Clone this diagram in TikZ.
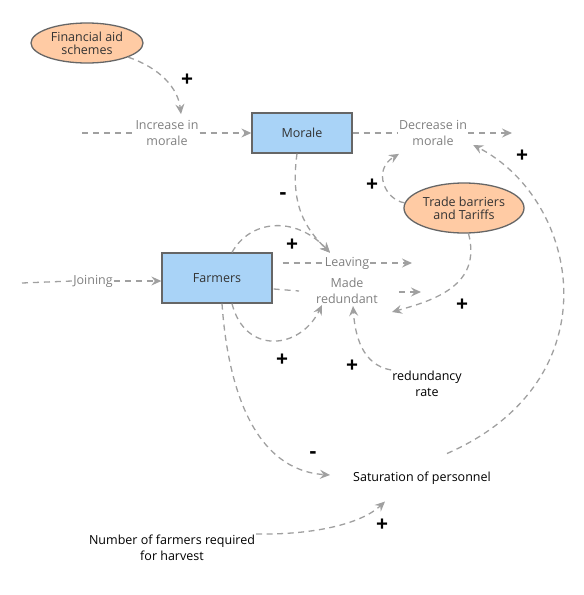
\documentclass[tikz,border=0pt]{standalone}
\usepackage{fontspec}
\setmainfont{Open Sans}
\usetikzlibrary{arrows.meta,shapes.geometric,calc}
\definecolor{arrowgray}{HTML}{A0A0A0}
\definecolor{textgray}{HTML}{808080}
\definecolor{bordergray}{HTML}{666666}
\definecolor{stockblue}{HTML}{A9D3F7}
\definecolor{peach}{HTML}{FFCBA4}
\tikzset{
  lnk/.style={draw=arrowgray, line width=1.3pt, dash pattern=on 6pt off 4.5pt,
    -{Stealth[length=10pt,width=9pt,inset=3.5pt]}},
  flowline/.style={draw=arrowgray, line width=1.3pt, dash pattern=on 6pt off 5pt},
  flowarrow/.style={flowline, -{Stealth[length=10pt,width=9pt,inset=3.5pt]}},
  stockbox/.style={draw=bordergray, fill=stockblue, line width=1.3pt,
    minimum width=100pt, minimum height=40pt, font=\fontsize{12.5}{15}\selectfont},
  auxvar/.style={ellipse, draw=bordergray, fill=peach, line width=1.3pt, align=center,
    inner sep=0pt, font=\fontsize{12.5}{14}\selectfont, text=black!80},
  valve/.style={text=textgray, align=center, inner sep=1pt, font=\fontsize{12.5}{16}\selectfont},
  var/.style={text=black, align=center, inner sep=1pt, font=\fontsize{12.5}{16}\selectfont},
  pol/.style={font=\fontsize{21}{21}\selectfont\bfseries, text=black, inner sep=0pt}
}
\begin{document}
\begin{tikzpicture}[x=1pt,y=-1pt]
\useasboundingbox (0,0) rectangle (584,595);

% nodes
\node[auxvar, minimum width=112pt, minimum height=40pt] (fin) at (87,43) {Financial aid\\[-1pt]schemes};
\node[valve] (inc) at (167,133) {Increase in\\morale};
\node[stockbox, text=black!80] (morale) at (302,133) {Morale};
\node[valve] (dec) at (433,133) {Decrease in\\morale};
\node[auxvar, minimum width=120pt, minimum height=50pt] (trade) at (464,208) {Trade barriers\\[-1pt]and Tariffs};
\node[stockbox, minimum width=110pt, minimum height=50pt, text=black!80] (farmers) at (217,278) {Farmers};
\node[valve] (join) at (93,281) {Joining};
\node[valve] (leave) at (347,263) {Leaving};
\node[valve] (mr) at (347,291) {Made\\redundant};
\node[var] (rr) at (427,384) {redundancy\\rate};
\node[var] (sat) at (422,478) {Saturation of personnel};
\node[var] (num) at (172,548) {Number of farmers required\\for harvest};

\coordinate (src1) at (82,133);
\coordinate (snk1) at (512,133);
\coordinate (src2) at (22,283);
\coordinate (snk2) at (412,263);
\coordinate (snk3) at (421,292);

% flows
\draw[flowline] (src1) -- (inc.west);
\draw[flowarrow] (inc.east) -- (morale.west);
\draw[flowline] (morale.east) -- (dec.west);
\draw[flowarrow] (dec.east) -- (snk1);
\draw[flowline] (src2) -- (join.west);
\draw[flowarrow] (join.east) -- (farmers.west |- join.east);
\draw[flowline] ($(farmers.east)+(10,-15)$) -- (leave.west);
\draw[flowarrow] (leave.east) -- (snk2);
\draw[flowline] ($(farmers.east)+(1,11)$) -- ($(mr.west)+(-16,0)$);
\draw[flowarrow] ($(mr.east)+(20,1)$) -- (snk3);

% links
\draw[lnk] (fin.-19) .. controls (160,68) and (178,88) .. ($(inc.north)+(14,-5)$);
\draw[lnk] ($(morale.south)+(-5,0)$) .. controls (290,205) and (305,228) .. ($(leave.north)+(-17,-3)$);
\draw[lnk] ($(farmers.north)+(15,0)$) .. controls (250,220) and (295,215) .. ($(leave.north)+(-17,-3)$);
\draw[lnk] ($(farmers.south)+(15,0)$) .. controls (245,355) and (300,350) .. ($(mr.south)+(-25,0)$);
\draw[lnk] (rr.north west) .. controls (362,365) and (355,335) .. ($(mr.south)+(6,1)$);
\draw[lnk] (trade.-80) .. controls (482,285) and (435,300) .. ($(mr.east)+(13,21)$);
\draw[lnk] (trade.175) .. controls (385,200) and (372,170) .. ($(dec.south)+(-34,7)$);
\draw[lnk] ($(farmers.south)+(5,0)$) .. controls (228,390) and (255,470) .. ($(sat.west)+(-22,-3)$);
\draw[lnk] ($(sat.north east)+(-45,-17)$) .. controls (615,380) and (580,200) .. ($(dec.east)+(5,12)$);
\draw[lnk] (num.north east) .. controls (310,535) and (360,525) .. ($(sat.south)+(-37,16)$);

% polarities
\node[pol] (p1) at (187,80) {+};
\node[pol] (p2) at (372,185) {+};
\node[pol] (m1) at (283,196) {-};
\node[pol] (p3) at (292,245) {+};
\node[pol] (p4) at (522,156) {+};
\node[pol] (p5) at (462,305) {+};
\node[pol] (p6) at (282,360) {+};
\node[pol] (p7) at (352,366) {+};
\node[pol] (m2) at (313,455) {-};
\node[pol] (p8) at (382,525) {+};
\end{tikzpicture}
\end{document}
